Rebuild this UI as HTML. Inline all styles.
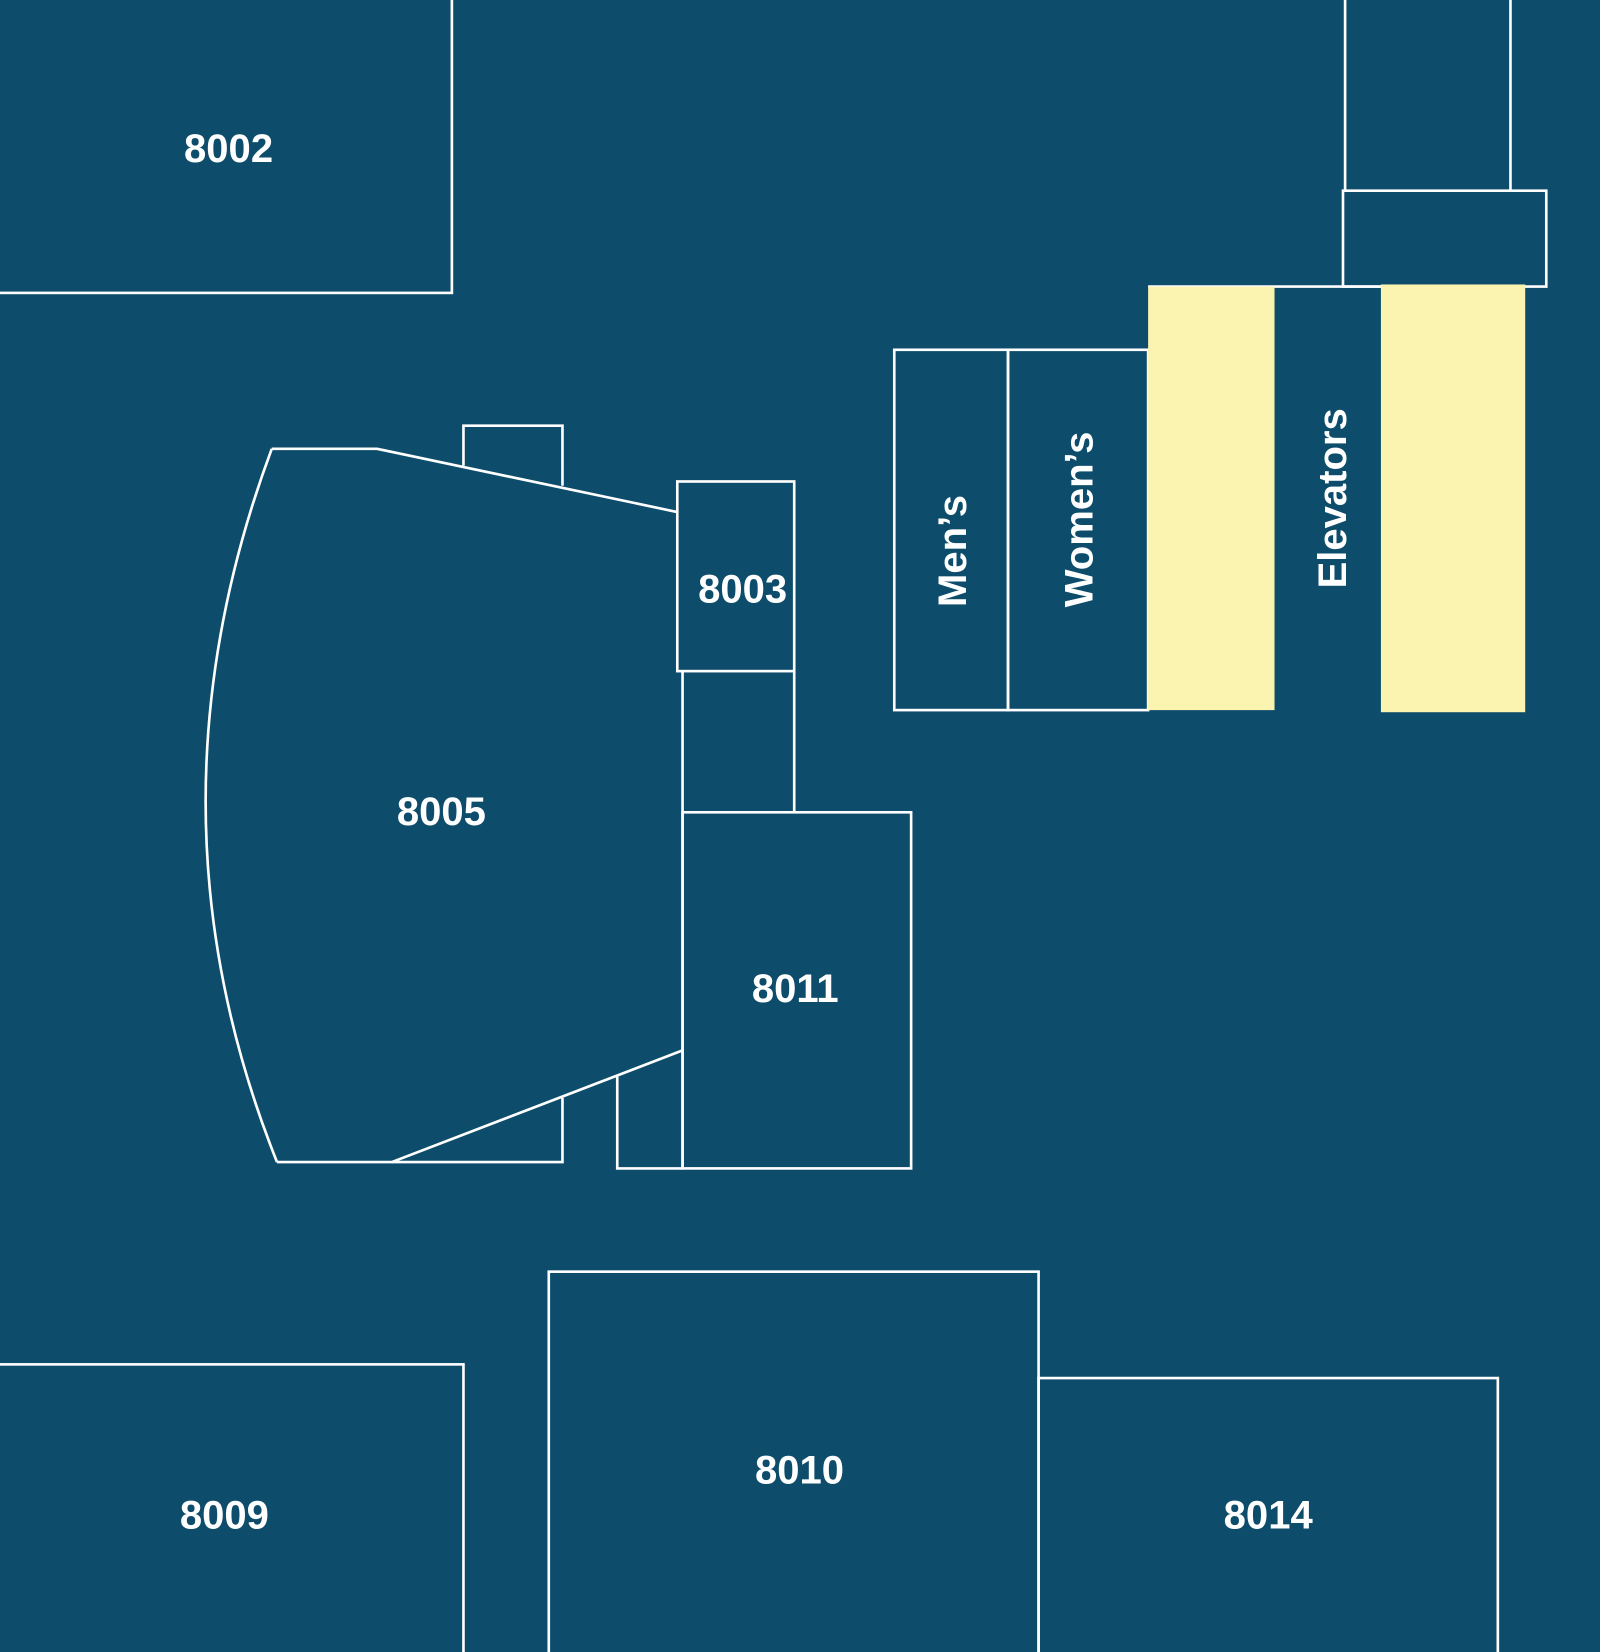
<!DOCTYPE html>
<html><head><meta charset="utf-8"><style>
html,body{margin:0;padding:0;background:#0d4d6b;}
svg{display:block;}
text{font-family:"Liberation Sans",sans-serif;font-weight:bold;fill:#fff;}
</style></head><body>
<svg width="1600" height="1652" viewBox="0 0 1519 1568" preserveAspectRatio="none" xmlns="http://www.w3.org/2000/svg">
<rect x="0" y="0" width="1519" height="1568" fill="#0d4d6b"/>
<g fill="none" stroke="#fff" stroke-width="2.5">
<rect x="-5" y="-5" width="434" height="283"/>
<line x1="1277" y1="0" x2="1277" y2="181"/>
<line x1="1434" y1="0" x2="1434" y2="181"/>
<rect x="1275" y="181" width="193" height="91"/>
<line x1="1090" y1="272" x2="1311" y2="272"/>
<rect x="849" y="332" width="108" height="342"/>
<rect x="957" y="332" width="133" height="342"/>
<path d="M258 426 L358 426 L643 486"/>
<path d="M440 442 L440 404 L534 404 L534 461"/>
<rect x="643" y="457" width="111" height="180"/>
<path d="M648 637 L648 1109 M754 637 L754 771"/>
<rect x="648" y="771" width="217" height="338"/>
<path d="M648 997 L372 1103 L263 1103"/>
<path d="M372 1103 L534 1103 L534 1042"/>
<path d="M586 1022 L586 1109 L648 1109"/>
<path d="M258 426 Q130 770 263 1103"/>
<rect x="-5" y="1295" width="445" height="290"/>
<rect x="521" y="1207" width="465" height="380"/>
<rect x="986" y="1308" width="436" height="280"/>
</g>
<rect x="1090" y="272" width="120" height="402" fill="#fbf3b0"/>
<rect x="1311" y="270" width="137" height="406" fill="#fbf3b0"/>
<g font-size="38" text-anchor="middle">
<text x="217" y="154">8002</text>
<text x="705" y="572">8003</text>
<text x="419" y="783">8005</text>
<text x="755" y="951">8011</text>
<text x="213" y="1451">8009</text>
<text x="759" y="1408">8010</text>
<text x="1204" y="1451">8014</text>
<text transform="translate(917 523) rotate(-90)">Men’s</text>
<text transform="translate(1037 493) rotate(-90)">Women’s</text>
<text transform="translate(1278 473) rotate(-90)">Elevators</text>
</g>
</svg>
</body></html>
